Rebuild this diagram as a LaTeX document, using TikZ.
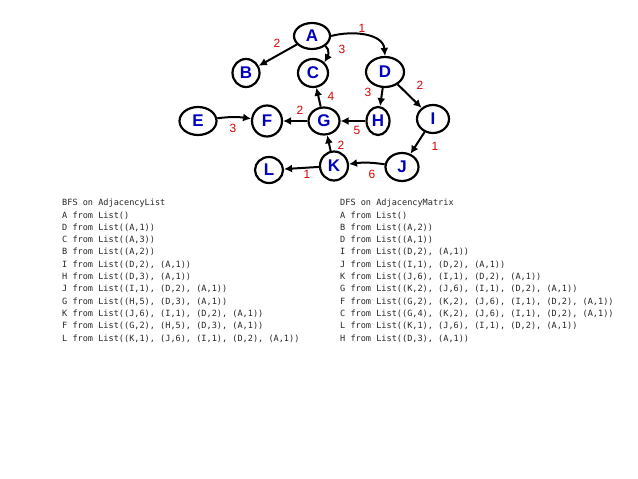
\documentclass[tikz,border=0pt]{standalone}
\usepackage{fontspec}
\setsansfont{Liberation Sans}
\setmonofont{DejaVu Sans Mono}
\usetikzlibrary{arrows.meta, shapes.geometric}

\begin{document}
\begin{tikzpicture}[
  x=1bp, y=-1bp,
  vtx/.style  = {draw, ellipse, line width=2.2pt, minimum width=32bp, minimum height=28bp, inner sep=0pt,
                 text=blue!75!black, font=\sffamily\bfseries\fontsize{17}{17}\selectfont},
  wt/.style   = {text=red!85!black, font=\sffamily\fontsize{12}{12}\selectfont, inner sep=1pt},
  arr/.style  = {line width=2pt, -{Latex[length=8bp, width=8bp]}},
  listtxt/.style = {anchor=north west, align=left, inner sep=0pt, text=black!85,
                 font=\ttfamily\fontsize{8.6}{12.35}\selectfont},
]
\useasboundingbox (0,0) rectangle (638,479);
% graph
\node[vtx, minimum width=36bp, minimum height=26bp] (A) at (312,36)  {A};
\node[vtx, minimum width=27bp] (B) at (246,73)  {B};
\node[vtx, minimum width=30bp] (C) at (313,73)  {C};
\node[vtx, minimum width=38bp, minimum height=30bp] (D) at (385,72) {D};
\node[vtx, minimum width=37bp] (E) at (198,121) {E};
\node[vtx, minimum width=30bp, minimum height=31bp] (F) at (267,121) {F};
\node[vtx, minimum width=31bp, minimum height=27bp] (G) at (324,121) {G};
\node[vtx, minimum width=23bp] (H) at (378,121) {H};
\node[vtx] (I) at (433,119) {I};
\node[vtx, minimum width=33bp] (J) at (402,167) {J};
\node[vtx, minimum width=28bp, minimum height=29bp] (K) at (334,166) {K};
\node[vtx, minimum width=28bp, minimum height=26bp] (L) at (269,170) {L};
\draw[arr] (A) -- (B);
\draw[arr] (A.south east) to[out=-40, in=60] (C.north east);
\draw[arr] (A.east) to[out=15, in=95] (D.north);
\draw[arr] (D) -- (H);
\draw[arr] (D) -- (I);
\draw[arr] (I) -- (J);
\draw[arr] (J) to[bend right=8] (K);
\draw[arr] (K) -- (L);
\draw[arr] (K) -- (G);
\draw[arr] (G) -- (C);
\draw[arr] (H) -- (G);
\draw[arr] (G) -- (F);
\draw[arr] (E) to[bend left=8] (F);
% weights
\node[wt] (wAB) at (277,43)  {2};
\node[wt] (wAC) at (342,49)  {3};
\node[wt] (wAD) at (362,28)  {1};
\node[wt] (wGC) at (331,96)  {4};
\node[wt] (wDH) at (368,92)  {3};
\node[wt] (wDI) at (420,85)  {2};
\node[wt] (wGF) at (300,110) {2};
\node[wt] (wEF) at (233,128) {3};
\node[wt] (wHG) at (357,130) {5};
\node[wt] (wKG) at (341,145) {2};
\node[wt] (wIJ) at (435,146) {1};
\node[wt] (wKL) at (307,174) {1};
\node[wt] (wJK) at (372,174) {6};
% traversals
\node[listtxt] (bfs) at (62,199) {BFS on AdjacencyList\\
A from List()\\
D from List((A,1))\\
C from List((A,3))\\
B from List((A,2))\\
I from List((D,2), (A,1))\\
H from List((D,3), (A,1))\\
J from List((I,1), (D,2), (A,1))\\
G from List((H,5), (D,3), (A,1))\\
K from List((J,6), (I,1), (D,2), (A,1))\\
F from List((G,2), (H,5), (D,3), (A,1))\\
L from List((K,1), (J,6), (I,1), (D,2), (A,1))};
\node[listtxt] (dfs) at (340,199) {DFS on AdjacencyMatrix\\
A from List()\\
B from List((A,2))\\
D from List((A,1))\\
I from List((D,2), (A,1))\\
J from List((I,1), (D,2), (A,1))\\
K from List((J,6), (I,1), (D,2), (A,1))\\
G from List((K,2), (J,6), (I,1), (D,2), (A,1))\\
F from List((G,2), (K,2), (J,6), (I,1), (D,2), (A,1))\\
C from List((G,4), (K,2), (J,6), (I,1), (D,2), (A,1))\\
L from List((K,1), (J,6), (I,1), (D,2), (A,1))\\
H from List((D,3), (A,1))};
\end{tikzpicture}
\end{document}
